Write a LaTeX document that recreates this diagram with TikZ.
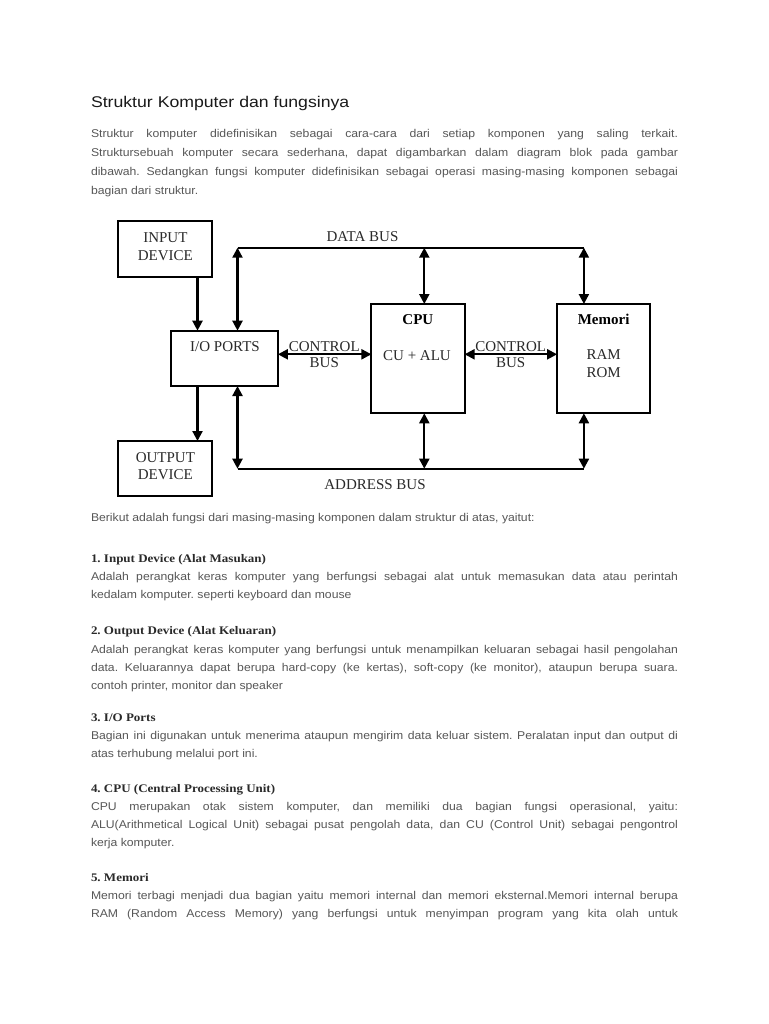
\documentclass[tikz,border=0pt]{standalone}
\usepackage{fontspec}
\setmainfont{Liberation Serif}
\newfontfamily\bodyfont[FakeStretch=1.08]{Liberation Sans}
\newfontfamily\titlefont[FakeStretch=1.14]{Liberation Sans}
\newfontfamily\headfont[FakeStretch=1.12]{Liberation Serif}
\usetikzlibrary{arrows.meta}
\definecolor{bodygray}{HTML}{575757}
\definecolor{headgray}{HTML}{2A2A2A}
\definecolor{titlec}{HTML}{1A1A1A}
\definecolor{diagtext}{HTML}{2A2A2A}
\newcommand\jline[1]{\makebox[587pt][s]{#1}}
\frenchspacing
\begin{document}
\begin{tikzpicture}[x=1pt,y=-1pt,
  every node/.style={inner sep=0pt, outer sep=0pt},
  block/.style={draw=black, line width=2pt, rectangle},
  titletext/.style={anchor=base west, font=\titlefont\fontsize{15.5}{18}\selectfont, text=titlec},
  body/.style={anchor=base west, font=\bodyfont\fontsize{11.3}{13}\selectfont, text=bodygray},
  head/.style={anchor=base west, font=\headfont\bfseries\fontsize{11.6}{13}\selectfont, text=headgray},
  dlabel/.style={anchor=base, font=\fontsize{15}{17}\selectfont, text=diagtext},
  dbold/.style={anchor=base, font=\bfseries\fontsize{15}{17}\selectfont, text=black},
  busline/.style={line width=2.2pt},
  biarrow/.style={line width=2.2pt, {Triangle[length=10pt,width=10pt]}-{Triangle[length=10pt,width=10pt]}},
  onearrow/.style={line width=2.2pt, -{Triangle[length=10pt,width=10pt]}}
]
\useasboundingbox (0,0) rectangle (768,1024);
\fill[white] (0,0) rectangle (768,1024);

% ---- title and intro
\node[titletext] (title) at (91,107.3) {Struktur Komputer dan fungsinya};
\node[body] (i1) at (91,137.5) {\jline{Struktur komputer didefinisikan sebagai cara-cara dari setiap komponen yang saling terkait.}};
\node[body] (i2) at (91,156.5) {\jline{Struktursebuah komputer secara sederhana, dapat digambarkan dalam diagram blok pada gambar}};
\node[body] (i3) at (91,175.5) {\jline{dibawah. Sedangkan fungsi komputer didefinisikan sebagai operasi masing-masing komponen sebagai}};
\node[body] (i4) at (91,194.5) {bagian dari struktur.};

% ---- diagram boxes
\node[block, minimum width=93.9pt, minimum height=55.7pt] (in) at (164.85,248.85) {};
\node[block, minimum width=94pt, minimum height=54.7pt] (out) at (165,468.35) {};
\node[block, minimum width=106.5pt, minimum height=55.3pt] (io) at (224.65,358.35) {};
\node[block, minimum width=93.2pt, minimum height=109.3pt] (cpu) at (418,358.65) {};
\node[block, minimum width=93.3pt, minimum height=109.3pt] (mem) at (603.75,358.65) {};

% ---- bus coordinates
\coordinate (dbL) at (237.5,247.7);
\coordinate (dbC) at (424.3,247.7);
\coordinate (dbR) at (583.9,247.7);
\coordinate (abL) at (237.5,468.7);
\coordinate (abC) at (424.3,468.7);
\coordinate (abR) at (583.9,468.7);
\coordinate (vio) at (197.5,0);
\coordinate (cb) at (0,354.3);

\draw[busline] (dbL) -- (dbR);
\draw[busline] (abL) -- (abR);
\draw[biarrow] (dbL) -- (dbL |- io.north);
\draw[biarrow] (dbC) -- (dbC |- cpu.north);
\draw[biarrow] (dbR) -- (dbR |- mem.north);
\draw[biarrow] (abL |- io.south) -- (abL);
\draw[biarrow] (abC |- cpu.south) -- (abC);
\draw[biarrow] (abR |- mem.south) -- (abR);
\draw[onearrow] (in.south -| vio) -- (io.north -| vio);
\draw[onearrow] (io.south -| vio) -- (out.north -| vio);
\draw[biarrow] (io.east |- cb) -- (cpu.west |- cb);
\draw[biarrow] (cpu.east |- cb) -- (mem.west |- cb);

% ---- diagram labels
\node[dlabel] (inA) at (165.4,242.7) {INPUT};
\node[dlabel] (inB) at (165.4,260) {DEVICE};
\node[dlabel] (outA) at (165.4,462.3) {OUTPUT};
\node[dlabel] (outB) at (165.4,479.3) {DEVICE};
\node[dlabel] (iol) at (225,351.7) {I/O PORTS};
\node[dlabel] (dbus) at (362.5,241.7) {DATA BUS};
\node[dlabel] (abus) at (375,489.3) {ADDRESS BUS};
\node[dlabel] (c1a) at (324.3,351.7) {CONTROL};
\node[dlabel] (c1b) at (324.3,367.7) {BUS};
\node[dlabel] (c2a) at (510.7,351.7) {CONTROL};
\node[dlabel] (c2b) at (510.7,367.7) {BUS};
\node[dbold] (cpul) at (417.9,324.3) {CPU};
\node[dlabel] (cual) at (417,360) {CU + ALU};
\node[dbold] (meml) at (603.6,324.3) {Memori};
\node[dlabel] (raml) at (603.6,359) {RAM};
\node[dlabel] (roml) at (603.6,377.3) {ROM};

% ---- explanation text
\node[body] (b0) at (91,521) {Berikut adalah fungsi dari masing-masing komponen dalam struktur di atas, yaitut:};

\node[head] (h1) at (91,562) {1. Input Device (Alat Masukan)};
\node[body] (l1a) at (91,580.5) {\jline{Adalah perangkat keras komputer yang berfungsi sebagai alat untuk memasukan data atau perintah}};
\node[body] (l1b) at (91,598.5) {kedalam komputer. seperti keyboard dan mouse};

\node[head] (h2) at (91,634) {2. Output Device (Alat Keluaran)};
\node[body] (l2a) at (91,653) {\jline{Adalah perangkat keras komputer yang berfungsi untuk menampilkan keluaran sebagai hasil pengolahan}};
\node[body] (l2b) at (91,671) {\jline{data. Keluarannya dapat berupa hard-copy (ke kertas), soft-copy (ke monitor), ataupun berupa suara.}};
\node[body] (l2c) at (91,689) {contoh printer, monitor dan speaker};

\node[head] (h3) at (91,721.5) {3. I/O Ports};
\node[body] (l3a) at (91,739.5) {\jline{Bagian ini digunakan untuk menerima ataupun mengirim data keluar sistem. Peralatan input dan output di}};
\node[body] (l3b) at (91,757.5) {atas terhubung melalui port ini.};

\node[head] (h4) at (91,792) {4. CPU (Central Processing Unit)};
\node[body] (l4a) at (91,810) {\jline{CPU merupakan otak sistem komputer, dan memiliki dua bagian fungsi operasional, yaitu:}};
\node[body] (l4b) at (91,828) {\jline{ALU(Arithmetical Logical Unit) sebagai pusat pengolah data, dan CU (Control Unit) sebagai pengontrol}};
\node[body] (l4c) at (91,846) {kerja komputer.};

\node[head] (h5) at (91,881) {5. Memori};
\node[body] (l5a) at (91,899) {\jline{Memori terbagi menjadi dua bagian yaitu memori internal dan memori eksternal.Memori internal berupa}};
\node[body] (l5b) at (91,917) {\jline{RAM (Random Access Memory) yang berfungsi untuk menyimpan program yang kita olah untuk}};
\end{tikzpicture}
\end{document}
